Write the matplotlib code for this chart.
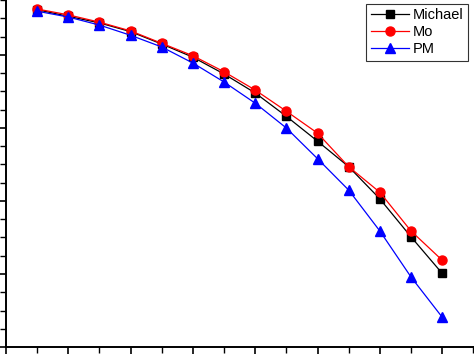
import numpy as np
from matplotlib import pyplot as plt
from matplotlib.ticker import MultipleLocator

plt.rcParams['font.family'] = ['Liberation Sans', 'DejaVu Sans']

# step index along the x axis
steps = np.arange(1, 15)
michael = [4.62, 4.53, 4.44, 4.32, 4.15, 3.97, 3.74, 3.48, 3.16, 2.82, 2.47, 2.03, 1.51, 1.01]
mo = [4.63, 4.55, 4.45, 4.33, 4.16, 3.99, 3.77, 3.52, 3.23, 2.93, 2.47, 2.12, 1.59, 1.19]
pm = [4.60, 4.52, 4.41, 4.27, 4.11, 3.89, 3.63, 3.34, 3.00, 2.58, 2.15, 1.59, 0.96, 0.41]

W, H = 474, 354
fig = plt.figure(figsize=(W / 100, H / 100), dpi=100)
# axes runs past the right/top edge, like the cropped original
ax = fig.add_axes([6 / W, 7 / H, 31.15 * 15.5 / W, 73 * 5 / H])

ax.plot(steps, michael, color='black', marker='s', ms=5.5, lw=0.9, label='Michael')
ax.plot(steps, mo, color='red', marker='o', ms=6.5, lw=0.9, label='Mo')
ax.plot(steps, pm, color='blue', marker='^', ms=7, lw=0.9, label='PM')

ax.set_xlim(0, 15.5)
ax.set_ylim(0, 5)
ax.xaxis.set_major_locator(MultipleLocator(2))
ax.xaxis.set_minor_locator(MultipleLocator(1))
ax.yaxis.set_major_locator(MultipleLocator(1))
ax.yaxis.set_minor_locator(MultipleLocator(0.25))
ax.tick_params(which='major', direction='out', length=6, width=1.2,
               labelleft=False, labelbottom=False)
ax.tick_params(which='minor', direction='out', length=4, width=1.0)
for s in ['top', 'right']:
    ax.spines[s].set_visible(False)
for s in ['left', 'bottom']:
    ax.spines[s].set_linewidth(1.4)

leg = fig.legend(loc='upper right', bbox_to_anchor=(468 / W, 1 - 4 / H),
                 fontsize=10.5, frameon=True, fancybox=False, edgecolor='black',
                 handlelength=2.6, handletextpad=0.3, labelspacing=0.2,
                 borderpad=0.3, borderaxespad=0)
leg.get_frame().set_linewidth(0.8)

fig.savefig('out.png', dpi=100)
